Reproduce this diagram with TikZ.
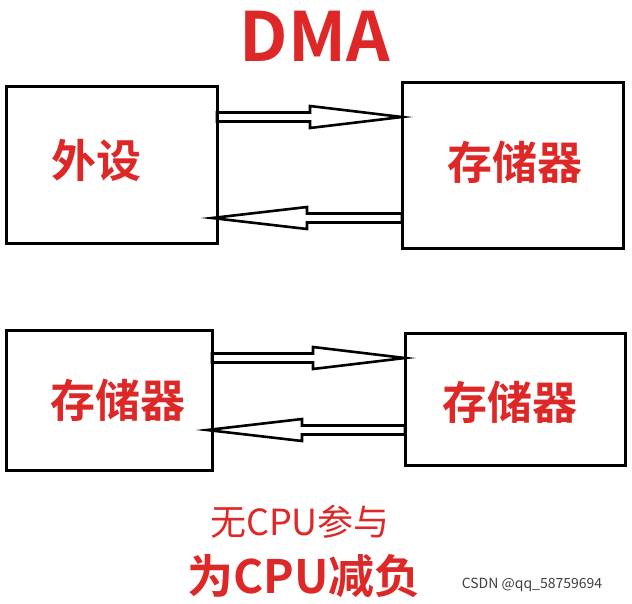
\documentclass[tikz,border=0pt]{standalone}
\usepackage{fontspec}
\setmainfont{Noto Sans CJK SC}
\newfontfamily\cjkb{Noto Sans CJK SC Bold}
\usetikzlibrary{calc}
\definecolor{rd}{RGB}{222,40,40}
\tikzset{box/.style={draw,line width=3pt},
lbl/.style={text=rd,font=\cjkb\fontsize{45}{45}\selectfont}}
% #1 start, #2 tip, #3 head length (signed)
\newcommand{\harrow}[3]{%
\draw[line width=2.6pt,line join=miter] let \p1=(#1), \p2=(#2) in
 (\x1,\y1+4.5) -- (\x2-#3,\y1+4.5) -- (\x2-#3,\y1+11) -- (\x2,\y1) -- (\x2-#3,\y1-11) -- (\x2-#3,\y1-4.5) -- (\x1,\y1-4.5) -- cycle;}
\begin{document}
\begin{tikzpicture}[x=1pt,y=-1pt]
\useasboundingbox (0,0) rectangle (632,603);
\fill[white] (0,0) rectangle (632,603);
\draw[box] (6,86) rectangle (217,243);
\draw[box] (402,82) rectangle (623,248);
\draw[box] (6,330) rectangle (212,470);
\draw[box] (405,333) rectangle (625,465);
\node[text=rd,font=\cjkb\fontsize{68}{68}\selectfont] (t) at (315,36) {DMA};
\node[lbl] (a) at (96,160) {外设};
\node[lbl] (b) at (515,162) {存储器};
\node[lbl] (c) at (118,400) {存储器};
\node[lbl] (d) at (510,402) {存储器};
\coordinate (a1) at (217,117); \coordinate (b1) at (402,117);
\coordinate (b2) at (402,218); \coordinate (a2) at (212,218);
\coordinate (c1) at (212,358); \coordinate (d1) at (405,358);
\coordinate (d2) at (405,430); \coordinate (c2) at (207,430);
\harrow{a1}{b1}{92}
\harrow{b2}{a2}{-95}
\harrow{c1}{d1}{92}
\harrow{d2}{c2}{-95}
\node[text=rd,font=\fontsize{36}{36}\selectfont] (n1) at (300,522) {无CPU参与};
\node[text=rd,font=\cjkb\fontsize{46}{46}\selectfont] (n2) at (304,576) {为CPU减负};
\node[text=black!75,font=\fontsize{14}{14}\selectfont] (w) at (532,585) {CSDN @qq\_58759694};
\end{tikzpicture}
\end{document}
